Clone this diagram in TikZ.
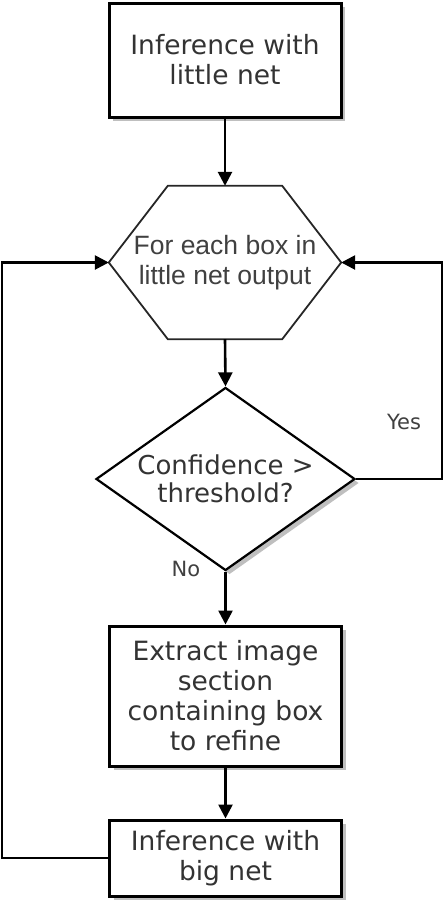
\documentclass[tikz,border=0pt]{standalone}
\usepackage{fontspec}
\setmainfont{DejaVu Sans}
\newfontfamily\arialf{Liberation Sans}
\usetikzlibrary{shapes.geometric,shadows,arrows.meta}
\begin{document}
\begin{tikzpicture}[x=1pt,y=-1pt,
  shad/.style={drop shadow={shadow xshift=4pt,shadow yshift=-4pt,fill=black!25,opacity=1}},
  procbox/.style={draw=black,line width=3pt,fill=white,shad,align=center,inner sep=0pt,
     minimum width=232pt,text=black!80,font=\fontsize{26.5}{30}\selectfont},
  looptext/.style={align=center,inner sep=0pt,
     minimum width=232pt,minimum height=153pt,text=black!75,font=\arialf\fontsize{26.5}{30}\selectfont},
  hexline/.style={draw=black!85,line width=1.8pt,line join=miter},
  decbox/.style={diamond,draw=black,line width=2.2pt,fill=white,shad,align=center,inner sep=0pt,
     aspect=1.415,minimum width=259pt,minimum height=183pt,text=black!80,font=\fontsize{26}{28}\selectfont},
  arr/.style={line width=2.6pt,-{Triangle[length=14pt,width=14pt]}},
  lab/.style={text=black!75,font=\fontsize{21}{22}\selectfont}
]
\useasboundingbox (0,0) rectangle (444,902);
\node[procbox,minimum height=114pt] (a) at (225,60) {Inference with\\little net};
\node[looptext] (h) at (225,262.5) {For each box in\\little net output};
\draw[hexline] ([xshift=59pt]h.north west) -- ([xshift=-59pt]h.north east) -- (h.east)
   -- ([xshift=-59pt]h.south east) -- ([xshift=59pt]h.south west) -- (h.west) -- cycle;
\node[decbox] (d) at (225.5,479) {Confidence >\\threshold?};
\node[procbox,minimum height=140pt] (e) at (225.5,696) {Extract image\\section\\containing box\\to refine};
\node[procbox,minimum height=76pt] (b) at (225.5,858) {Inference with\\big net};
\coordinate (bl) at (2,858);
\coordinate (tl) at (2,262.5);
\coordinate (br) at (442,479);
\coordinate (tr) at (442,262.5);
\draw[arr] (a.south) -- (h.north);
\draw[arr] (h.south) -- (d.north);
\draw[arr] (d.south) -- (e.north);
\draw[arr] (e.south) -- (b.north);
\draw[arr] (b.west) -- (bl) -- (tl) -- (h.west);
\draw[arr] (d.east) -- (br) -- (tr) -- (h.east);
\node[lab] (yes) at (404,422) {Yes};
\node[lab] (no) at (186,569) {No};
\end{tikzpicture}
\end{document}
